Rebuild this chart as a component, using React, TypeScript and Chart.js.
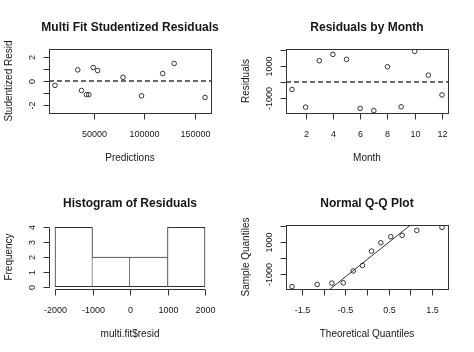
import React, { useEffect, useRef } from "react";
import { Chart, registerables } from "chart.js";
Chart.register(...registerables);

const FONT = '"Liberation Sans", Arial, Helvetica, sans-serif';
const INK = "#161616";
const LINE = "#333333";

// ---- Panel 1: Multi Fit Studentized Residuals ----
const predictions = [11600, 34100, 37800, 42700, 45000, 49400, 53700, 78800, 97100, 118000, 129300, 159800];
const studentized = [-0.37, 0.94, -0.8, -1.15, -1.15, 1.14, 0.88, 0.31, -1.25, 0.63, 1.48, -1.39];
const p1XTicks = [50000, 100000, 150000];
const p1XLabels = ["50000", "100000", "150000"];
const p1YTicks = [-2, -1, 0, 1, 2];
const p1YLabels = ["-2", "", "0", "", "2"];

// ---- Panel 2: Residuals by Month ----
const months = [1, 2, 3, 4, 5, 6, 7, 8, 9, 10, 11, 12];
const residuals = [-465, -1580, 1350, 1750, 1437, -1660, -1800, 970, -1560, 1940, 440, -810];
const p2XTicks = [2, 4, 6, 8, 10, 12];
const p2XLabels = ["2", "4", "6", "8", "10", "12"];
const resYTicks = [-1000, 0, 1000, 2000];
const resYLabels = ["-1000", "", "1000", ""];

// ---- Panel 3: Histogram of Residuals ----
const histBreaks = [-2000, -1000, 0, 1000, 2000];
const histCounts = [4, 2, 2, 4];
const p3XLabels = ["-2000", "-1000", "0", "1000", "2000"];
const p3YTicks = [0, 1, 2, 3, 4];
const p3YLabels = ["0", "1", "2", "3", "4"];

// ---- Panel 4: Normal Q-Q Plot ----
const theoretical = [-1.732, -1.15, -0.812, -0.549, -0.319, -0.105, 0.105, 0.319, 0.549, 0.812, 1.15, 1.732];
const p4XTicks = [-1.5, -1, -0.5, 0, 0.5, 1, 1.5];
const p4XLabels = ["-1.5", "", "-0.5", "", "0.5", "", "1.5"];

type AxisSpec = {
  title: string;
  xTitle: string;
  yTitle: string;
  xTicks: number[];
  xLabels: string[];
  yTicks: number[];
  yLabels: string[];
  box: boolean;
};

function makeAxesPlugin(spec: AxisSpec) {
  return {
    id: "rAxes",
    afterDraw(chart: any) {
      const { ctx, chartArea: a, scales } = chart;
      const xs = scales.x;
      const ys = scales.y;
      ctx.save();
      ctx.strokeStyle = LINE;
      ctx.lineWidth = 1;
      ctx.fillStyle = INK;
      const L = Math.round(a.left) + 0.5;
      const R = Math.round(a.right) + 0.5;
      const T = Math.round(a.top) + 0.5;
      const B = Math.round(a.bottom) + 0.5;
      if (spec.box) {
        ctx.strokeRect(L, T, R - L, B - T);
      }
      // x axis
      const xp = spec.xTicks.map((v) => Math.round(xs.getPixelForValue(v)) + 0.5);
      ctx.beginPath();
      ctx.moveTo(xp[0], B);
      ctx.lineTo(xp[xp.length - 1], B);
      xp.forEach((p) => {
        ctx.moveTo(p, B);
        ctx.lineTo(p, B + 6);
      });
      ctx.stroke();
      ctx.font = `9px ${FONT}`;
      ctx.textAlign = "center";
      ctx.textBaseline = "alphabetic";
      spec.xLabels.forEach((lab, i) => {
        if (lab) ctx.fillText(lab, xp[i], 137);
      });
      // y axis
      const yp = spec.yTicks.map((v) => Math.round(ys.getPixelForValue(v)) + 0.5);
      ctx.beginPath();
      ctx.moveTo(L, yp[0]);
      ctx.lineTo(L, yp[yp.length - 1]);
      yp.forEach((p) => {
        ctx.moveTo(L, p);
        ctx.lineTo(L - 6, p);
      });
      ctx.stroke();
      spec.yLabels.forEach((lab, i) => {
        if (!lab) return;
        ctx.save();
        ctx.translate(34.5, yp[i]);
        ctx.rotate(-Math.PI / 2);
        ctx.fillText(lab, 0, 0);
        ctx.restore();
      });
      // titles
      const cx = (a.left + a.right) / 2;
      const cy = (a.top + a.bottom) / 2;
      ctx.font = `10px ${FONT}`;
      ctx.fillText(spec.xTitle, cx, 161);
      ctx.save();
      ctx.translate(12, cy);
      ctx.rotate(-Math.PI / 2);
      ctx.fillText(spec.yTitle, 0, 0);
      ctx.restore();
      ctx.font = `bold 12px ${FONT}`;
      ctx.fillText(spec.title, cx, 31);
      ctx.restore();
    },
  };
}

function baseOptions(xMin: number, xMax: number, yMin: number, yMax: number) {
  return {
    responsive: false,
    animation: false,
    devicePixelRatio: 1,
    events: [],
    layout: { padding: { left: 49, top: 49, right: 26, bottom: 63 } },
    plugins: { legend: { display: false }, tooltip: { enabled: false }, title: { display: false } },
    scales: {
      x: { type: "linear", display: false, min: xMin, max: xMax, offset: false },
      y: { type: "linear", display: false, min: yMin, max: yMax },
    },
  };
}

const pointStyle = {
  pointStyle: "circle",
  pointRadius: 2.3,
  pointBorderWidth: 1,
  pointBorderColor: LINE,
  pointBackgroundColor: "rgba(0,0,0,0)",
  showLine: false,
};

function dashedZero(xMin: number, xMax: number) {
  return {
    type: "line",
    data: [
      { x: xMin, y: 0 },
      { x: xMax, y: 0 },
    ],
    borderColor: LINE,
    borderWidth: 1.5,
    borderDash: [5, 3],
    pointRadius: 0,
    showLine: true,
    clip: 0,
  };
}

function quantile7(sorted: number[], p: number) {
  const h = (sorted.length - 1) * p;
  const lo = Math.floor(h);
  const hi = Math.min(lo + 1, sorted.length - 1);
  return sorted[lo] + (h - lo) * (sorted[hi] - sorted[lo]);
}

function config1() {
  const xMin = 5700, xMax = 165700;
  return {
    type: "scatter",
    data: {
      datasets: [
        { data: predictions.map((x, i) => ({ x, y: studentized[i] })), ...pointStyle },
        dashedZero(xMin, xMax),
      ],
    },
    options: baseOptions(xMin, xMax, -2.7, 2.7),
    plugins: [
      makeAxesPlugin({
        title: "Multi Fit Studentized Residuals",
        xTitle: "Predictions",
        yTitle: "Studentized Resid",
        xTicks: p1XTicks,
        xLabels: p1XLabels,
        yTicks: p1YTicks,
        yLabels: p1YLabels,
        box: true,
      }),
    ],
  };
}

function config2() {
  const xMin = 0.56, xMax = 12.44;
  return {
    type: "scatter",
    data: {
      datasets: [
        { data: months.map((x, i) => ({ x, y: residuals[i] })), ...pointStyle },
        dashedZero(xMin, xMax),
      ],
    },
    options: baseOptions(xMin, xMax, -1950, 2090),
    plugins: [
      makeAxesPlugin({
        title: "Residuals by Month",
        xTitle: "Month",
        yTitle: "Residuals",
        xTicks: p2XTicks,
        xLabels: p2XLabels,
        yTicks: resYTicks,
        yLabels: resYLabels,
        box: true,
      }),
    ],
  };
}

function config3() {
  const mids = histCounts.map((_, i) => (histBreaks[i] + histBreaks[i + 1]) / 2);
  const n = histCounts.length;
  return {
    type: "bar",
    data: {
      datasets: [
        {
          data: mids.map((x, i) => ({ x, y: histCounts[i] })),
          backgroundColor: "#ffffff",
          borderColor: LINE,
          borderSkipped: false,
          borderWidth: (c: any) => {
            const i = c.dataIndex;
            return {
              top: 1,
              bottom: 1,
              left: i === 0 || histCounts[i] > histCounts[i - 1] ? 1 : 0,
              right: i === n - 1 || histCounts[i] >= histCounts[i + 1] ? 1 : 0,
            };
          },
          barPercentage: 1,
          categoryPercentage: 1,
        },
      ],
    },
    options: baseOptions(-2160, 2160, -0.16, 4.16),
    plugins: [
      makeAxesPlugin({
        title: "Histogram of Residuals",
        xTitle: "multi.fit$resid",
        yTitle: "Frequency",
        xTicks: histBreaks,
        xLabels: p3XLabels,
        yTicks: p3YTicks,
        yLabels: p3YLabels,
        box: false,
      }),
    ],
  };
}

function config4() {
  const sorted = [...residuals].sort((a, b) => a - b);
  const z = 0.6744898;
  const q1 = quantile7(sorted, 0.25);
  const q3 = quantile7(sorted, 0.75);
  const slope = (q3 - q1) / (2 * z);
  const intercept = q1 + z * slope;
  const xMin = -1.871, xMax = 1.871;
  return {
    type: "scatter",
    data: {
      datasets: [
        { data: theoretical.map((x, i) => ({ x, y: sorted[i] })), ...pointStyle },
        {
          type: "line",
          data: [
            { x: xMin, y: intercept + slope * xMin },
            { x: xMax, y: intercept + slope * xMax },
          ],
          borderColor: LINE,
          borderWidth: 1,
          pointRadius: 0,
          showLine: true,
          clip: 0,
        },
      ],
    },
    options: baseOptions(xMin, xMax, -1950, 2090),
    plugins: [
      makeAxesPlugin({
        title: "Normal Q-Q Plot",
        xTitle: "Theoretical Quantiles",
        yTitle: "Sample Quantiles",
        xTicks: p4XTicks,
        xLabels: p4XLabels,
        yTicks: resYTicks,
        yLabels: resYLabels,
        box: true,
      }),
    ],
  };
}

function Panel({ make, left, top }: { make: () => any; left: number; top: number }) {
  const ref = useRef<HTMLCanvasElement>(null);
  useEffect(() => {
    const chart = new Chart(ref.current as HTMLCanvasElement, make());
    return () => chart.destroy();
  }, []);
  return (
    <canvas
      ref={ref}
      width={237}
      height={176}
      style={{ position: "absolute", left, top, width: 237, height: 176, display: "block" }}
    />
  );
}

export default function App() {
  useEffect(() => {
    document.body.style.margin = "0";
    document.body.style.background = "#ffffff";
  }, []);
  return (
    <div style={{ position: "absolute", left: 0, top: 0, width: 474, height: 352, background: "#ffffff" }}>
      <Panel make={config1} left={0} top={0} />
      <Panel make={config2} left={237} top={0} />
      <Panel make={config3} left={0} top={176} />
      <Panel make={config4} left={237} top={176} />
    </div>
  );
}
